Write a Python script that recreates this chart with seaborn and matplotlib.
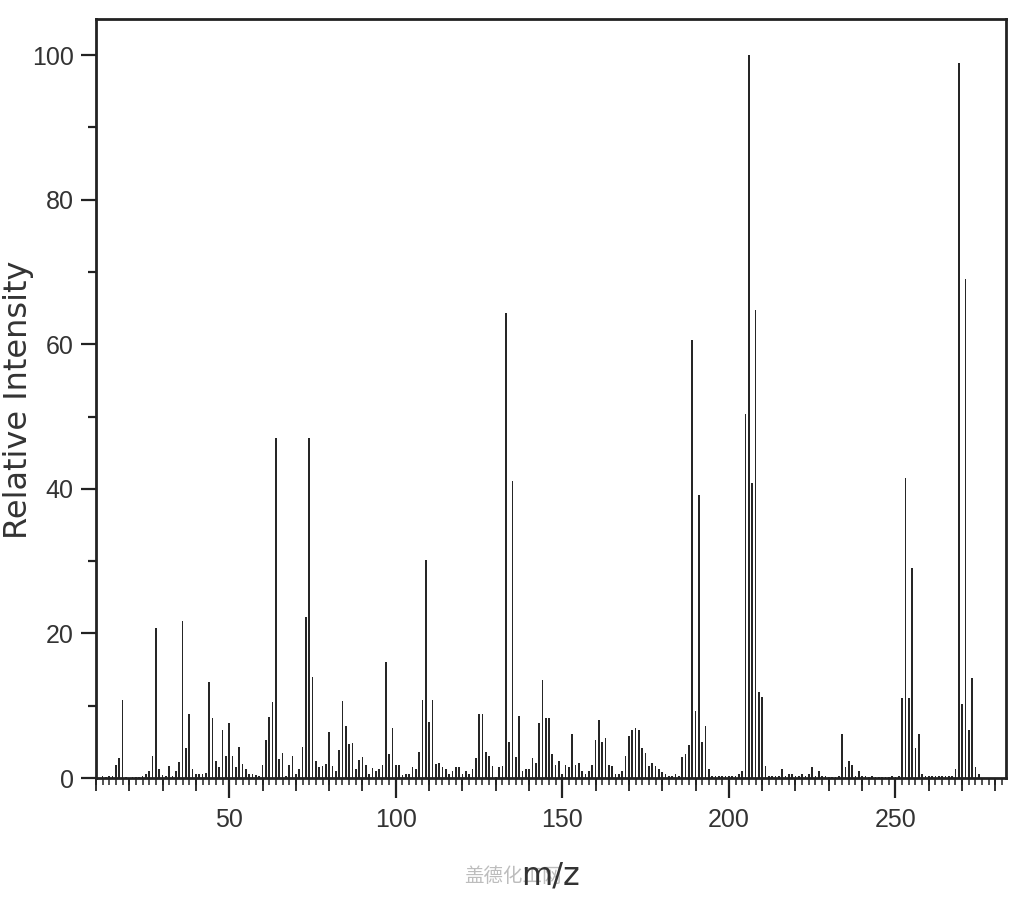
import numpy as np
import pandas as pd
import matplotlib
matplotlib.use('Agg')
import matplotlib.pyplot as plt
import matplotlib.ticker as tick
import seaborn as sbn

MZ_START = 12
MZ_STOP = 275

# relative intensity for every m/z from 12 to 275, ten per row
intensity = [
    0.3, 0.2, 0.3, 0.3, 1.8, 2.8, 10.8, 0.2, 0.0, 0.2,      # 12-21
    0.2, 0.1, 0.3, 0.5, 0.9, 3.1, 20.8, 1.2, 0.4, 0.3,      # 22-31
    1.7, 0.3, 0.9, 2.2, 21.7, 4.2, 8.8, 1.2, 0.5, 0.5,      # 32-41
    0.6, 0.7, 13.3, 8.3, 2.4, 1.5, 6.7, 3.0, 7.6, 3.0,      # 42-51
    1.5, 4.3, 1.9, 1.2, 0.5, 0.6, 0.4, 0.3, 1.8, 5.2,       # 52-61
    8.5, 10.5, 47.1, 2.6, 3.5, 0.3, 1.8, 3.0, 0.5, 1.2,     # 62-71
    4.3, 22.3, 47.0, 14.0, 2.4, 1.5, 1.7, 1.9, 6.4, 1.6,    # 72-81
    1.0, 3.9, 10.6, 7.2, 4.7, 4.8, 1.2, 2.5, 2.9, 1.8,      # 82-91
    0.6, 1.4, 1.0, 1.2, 1.8, 16.0, 3.3, 6.9, 1.8, 1.8,      # 92-101
    0.4, 0.6, 0.6, 1.5, 1.2, 3.6, 10.8, 30.2, 7.8, 10.8,    # 102-111
    1.9, 2.1, 1.5, 1.2, 0.6, 0.9, 1.5, 1.5, 0.6, 0.9,       # 112-121
    0.6, 1.2, 2.7, 8.9, 8.9, 3.6, 3.0, 1.7, 0.2, 1.5,       # 122-131
    1.7, 64.3, 5.0, 41.1, 2.9, 8.6, 0.9, 1.2, 1.2, 2.7,     # 132-141
    2.1, 7.6, 13.5, 8.3, 8.3, 3.3, 1.8, 2.4, 0.6, 1.8,      # 142-151
    1.5, 6.1, 1.8, 2.1, 0.9, 0.6, 0.9, 1.8, 5.3, 8.0,       # 152-161
    5.0, 5.5, 1.8, 1.7, 0.6, 0.6, 0.9, 3.0, 5.8, 6.6,       # 162-171
    6.9, 6.6, 4.2, 3.4, 1.7, 2.1, 1.7, 1.3, 0.8, 0.5,       # 172-181
    0.3, 0.3, 0.5, 0.3, 2.9, 3.3, 4.6, 60.6, 9.2, 39.1,     # 182-191
    5.0, 7.2, 1.2, 0.3, 0.3, 0.3, 0.3, 0.3, 0.3, 0.3,       # 192-201
    0.3, 0.6, 1.0, 50.4, 100.0, 40.8, 64.8, 11.9, 11.2, 1.7,  # 202-211
    0.3, 0.3, 0.3, 0.3, 1.2, 0.3, 0.5, 0.6, 0.3, 0.3,       # 212-221
    0.6, 0.3, 0.5, 1.5, 0.3, 0.9, 0.3, 0.3, 0.1, 0.1,       # 222-231
    0.1, 0.3, 6.1, 1.5, 2.4, 1.8, 0.3, 0.9, 0.3, 0.3,       # 232-241
    0.1, 0.3, 0.1, 0.1, 0.1, 0.1, 0.1, 0.3, 0.1, 0.3,       # 242-251
    11.1, 41.5, 11.1, 29.0, 4.2, 6.1, 0.6, 0.3, 0.3, 0.3,   # 252-261
    0.3, 0.3, 0.3, 0.3, 0.3, 0.3, 1.2, 98.9, 10.3, 69.1,    # 262-271
    6.7, 13.9, 1.5, 0.6,                                    # 272-275
]

X_MAJOR = [50, 100, 150, 200, 250]
Y_MAJOR = [0, 20, 40, 60, 80, 100]

mz = np.arange(MZ_START, MZ_STOP + 1)
assert len(mz) == len(intensity)
df = pd.DataFrame({'mz': mz, 'intensity': intensity})

sbn.set_style('ticks')
plt.rcParams['font.family'] = ['Liberation Sans', 'DejaVu Sans']

INK = '#333333'
fig = plt.figure(figsize=(10.24, 9), dpi=100)
ax = fig.add_axes([96 / 1024, 122 / 900, 910 / 1024, 759 / 900])

sbn.histplot(data=df, x='mz', weights='intensity', discrete=True, shrink=0.5,
             color='#262626', alpha=1, linewidth=0, ax=ax)

ax.set_xlim(10, 283.2)
ax.set_ylim(0, 105)
ax.set_xlabel('')
ax.set_ylabel('')

for s in ax.spines.values():
    s.set_visible(True)
    s.set_linewidth(2)
    s.set_color('#222222')

ax.xaxis.set_major_locator(tick.FixedLocator(X_MAJOR))
ax.xaxis.set_minor_locator(tick.MultipleLocator(2))
ax.yaxis.set_major_locator(tick.FixedLocator(Y_MAJOR))
ax.yaxis.set_minor_locator(tick.MultipleLocator(10))
ax.tick_params(axis='x', which='major', length=14.5, width=1.6, pad=7,
               labelsize=18, color='#222222', labelcolor=INK)
ax.tick_params(axis='x', which='minor', length=5, width=1.1, color='#222222')
ax.tick_params(axis='y', which='major', length=11, width=1.6, pad=5,
               labelsize=18, color='#222222', labelcolor=INK)
ax.tick_params(axis='y', which='minor', length=6, width=1.6, color='#222222')

# medium ticks every 10 units
sec = ax.secondary_xaxis('bottom')
sec.set_xticks(np.arange(10, 290, 10))
sec.tick_params(length=9.5, width=1.3, labelbottom=False, color='#222222')
sec.spines['bottom'].set_visible(False)

fig.text(19 / 1024, 1 - 400 / 900, 'Relative Intensity', rotation=90, ha='center',
         va='center', fontsize=23, family='DejaVu Sans', color=INK)
fig.text(513 / 1024, 1 - 876 / 900, '盖德化工网', ha='center', va='center',
         fontsize=14, family=['Noto Sans CJK SC', 'DejaVu Sans'], color='#bdbdbd')
fig.text(551 / 1024, 1 - 876 / 900, 'm/z', ha='center', va='center',
         fontsize=23, family='DejaVu Sans', color=INK)

fig.savefig('out.png', dpi=100)
plt.close()
